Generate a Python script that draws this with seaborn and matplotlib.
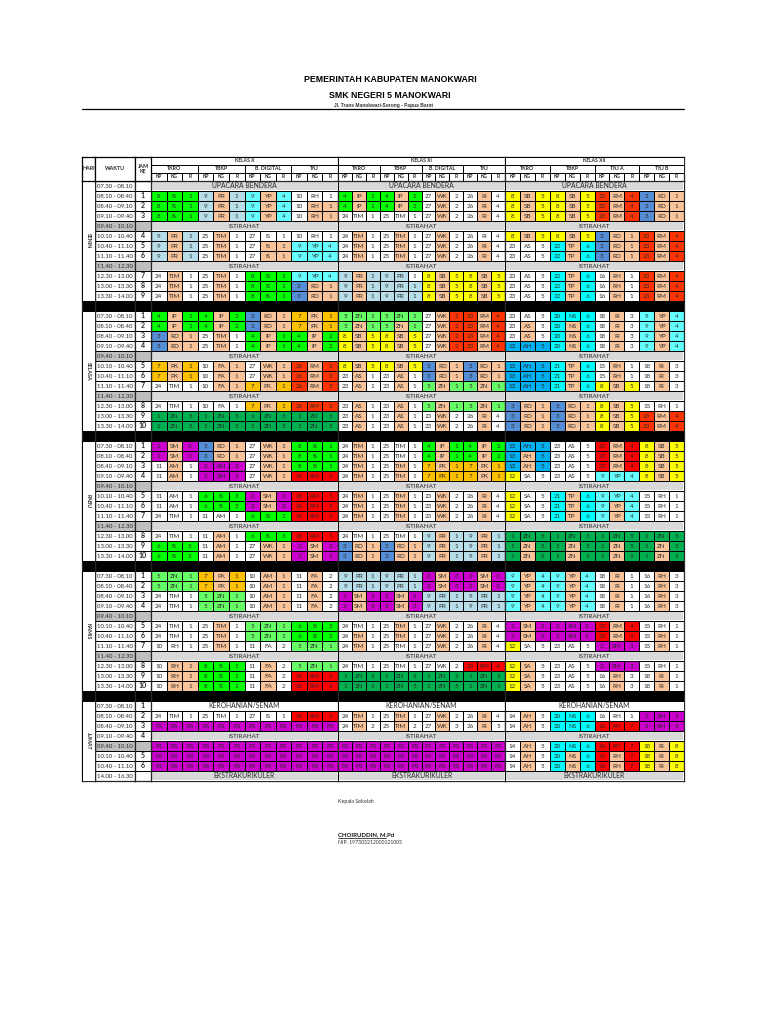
import numpy as np
import matplotlib
matplotlib.use("Agg")
import matplotlib.pyplot as plt
from matplotlib.colors import ListedColormap
from matplotlib.patches import Rectangle
import seaborn as sns

# cell colours used in the timetable
colour_names = ["W", "P", "G", "L", "B", "C", "A", "Y", "O", "R", "D", "U", "K", "M", "E", "N", "S", "H"]
colour_hex = ["#FFFFFF", "#FAC49A", "#00FF00", "#66FF66", "#B7DEE8", "#66FFFF", "#00FFFF", "#FFFF00",
              "#FFC000", "#FF3300", "#FF0000", "#558ED5", "#00B0F0", "#CC00CC", "#00B050", "#000000",
              "#D9D9D9", "#BFBFBF"]

kelas = ["KELAS X", "KELAS XI", "KELAS XII"]
jurusan_x = ["TKRO", "TBKP", "B. DIGITAL", "TKJ"]
jurusan_xi = ["TKRO", "TBKP", "B. DIGITAL", "TKJ"]
jurusan_xii = ["TKRO", "TBKP", "TKJ A", "TKJ B"]
kolom = ["KP", "KG", "R"]

hari = ["SENIN", "SELASA", "RABU", "KAMIS", "JUMAT"]
waktu_biasa = ["07.30 - 08.10", "08.10 - 08.40", "08.40 - 09.10", "09.10 - 09.40", "09.40 - 10.10", "10.10 - 10.40",
               "10.40 - 11.10", "11.10 - 11.40", "11.40 - 12.30", "12.30 - 13.00", "13.00 - 13.30", "13.30 - 14.00"]
waktu_jumat = ["07.30 - 08.10", "08.10 - 08.40", "08.40 - 09.10", "09.10 - 09.40", "09.40 - 10.10", "10.10 - 10.40",
               "10.40 - 11.10", "14.00 - 16.30"]
waktu_abu = ["09.40 - 10.10", "11.40 - 12.30"]
jam_senin = ["", "1", "2", "3", "", "4", "5", "6", "", "7", "8", "9"]
jam_biasa = ["1", "2", "3", "4", "", "5", "6", "7", "", "8", "9", "10"]
jam_jumat = ["1", "2", "3", "4", "", "5", "6", ""]

# one row = 12 groups "KP KG R style"; style letter colours the group,
# suffix p = KG peach, q = KG and R peach, three letters = each cell
senin = [
    "UPACARA BENDERA",
    "8 IS 1 G, 9 PR 1 Bp, 9 YP 4 Cp, 10 RH 1 W, 4 IP 1 Gp, 4 IP 2 Gp, 27 WK 2 Wp, 26 RI 4 Wp, 8 SB 5 Yp, 8 SB 5 Yp, 23 RM 4 Rp, 3 RD 1 Uq",
    "8 IS 1 G, 9 PR 1 Bp, 9 YP 4 Cp, 10 RH 1 Wq, 4 IP 1 Gp, 4 IP 2 Gp, 27 WK 2 Wp, 26 RI 4 Wp, 8 SB 5 Yp, 8 SB 5 Yp, 23 RM 4 Rp, 3 RD 1 Uq",
    "8 IS 1 G, 9 PR 1 Bp, 9 YP 4 Cp, 10 RH 1 Wq, 24 TIM 1 W, 25 TIM 1 W, 27 WK 2 Wp, 26 RI 4 Wp, 8 SB 5 Yp, 8 SB 5 Yp, 23 RM 4 Rp, 3 RD 1 Uq",
    "ISTIRAHAT",
    "9 PR 1 Bp, 25 TIM 1 Wp, 27 IS 1 W, 10 RH 1 W, 24 TIM 1 Wp, 25 TIM 1 Wp, 27 WK 2 Wp, 26 RI 4 W, 8 SB 5 Yp, 8 SB 5 Yp, 3 RD 1 Uq, 23 RM 4 Rp",
    "9 PR 1 Bp, 25 TIM 1 Wp, 27 IS 1 Wq, 9 YP 4 C, 24 TIM 1 Wp, 25 TIM 1 Wp, 27 WK 2 Wp, 26 RI 4 Wp, 23 AS 5 W, 22 TP 6 Ap, 3 RD 1 Uq, 23 RM 4 Rp",
    "9 PR 1 Bp, 25 TIM 1 Wp, 27 IS 1 Wq, 9 YP 4 C, 24 TIM 1 Wp, 25 TIM 1 Wp, 27 WK 2 Wp, 26 RI 4 Wp, 23 AS 5 W, 22 TP 6 Ap, 3 RD 1 Uq, 23 RM 4 Rp",
    "ISTIRAHAT",
    "24 TIM 1 Wp, 25 TIM 1 Wp, 8 IS 1 G, 9 YP 4 C, 9 PR 1 Bp, 9 PR 1 BBW, 8 SB 5 Yp, 8 SB 5 Yp, 23 AS 5 W, 22 TP 6 Ap, 16 RH 1 Wp, 23 RM 4 Rp",
    "24 TIM 1 Wp, 25 TIM 1 Wp, 8 IS 1 G, 3 RD 1 Uq, 9 PR 1 Bp, 9 PR 1 B, 8 SB 5 Yp, 8 SB 5 Yp, 23 AS 5 W, 22 TP 6 Ap, 16 RH 1 Wp, 23 RM 4 Rp",
    "24 TIM 1 Wp, 25 TIM 1 Wp, 8 IS 1 G, 3 RD 1 Uq, 9 PR 1 Bp, 9 PR 1 B, 8 SB 5 Yp, 8 SB 5 Yp, 23 AS 5 W, 22 TP 6 Ap, 16 RH 1 Wp, 23 RM 4 Rp",
]
selasa = [
    "4 IP 1 Gp, 4 IP 2 Gp, 3 RD 1 Uq, 7 PK 1 Op, 5 ZN 1 L, 5 ZN 1 L, 27 WK 2 WPR, 23 RM 4 Rp, 23 AS 5 W, 20 NS 6 A, 18 RI 3 Wp, 9 YP 4 Cp",
    "4 IP 1 Gp, 4 IP 2 Gp, 3 RD 1 Uq, 7 PK 1 Op, 5 ZN 1 Lp, 5 ZN 1 Lp, 27 WK 2 WPR, 23 RM 4 Rp, 23 AS 5 Wp, 20 NS 6 Ap, 18 RI 3 Wp, 9 YP 4 Cp",
    "3 RD 1 Uq, 25 TIM 1 Wp, 4 IP 1 Gp, 4 IP 2 Gp, 8 SB 5 Yp, 8 SB 5 Yp, 27 WK 2 WPR, 23 RM 4 Rp, 23 AS 5 Wp, 20 NS 6 Ap, 18 RI 3 Wp, 9 YP 4 Cp",
    "3 RD 1 Uq, 25 TIM 1 Wp, 4 IP 1 Gp, 4 IP 2 Gp, 8 SB 5 Yp, 8 SB 5 Yp, 27 WK 2 WPR, 23 RM 4 Rp, 13 AH 5 K, 20 NS 6 Ap, 18 RI 3 Wp, 9 YP 4 Cp",
    "ISTIRAHAT",
    "7 PK 1 Op, 10 FA 1 Wq, 27 WK 1 Wq, 26 RM 3 Rp, 8 SB 5 Yp, 8 SB 5 Yp, 3 RD 1 Uq, 3 RD 1 Uq, 13 AH 5 K, 21 TP 6 Ap, 15 RH 1 Wp, 18 RI 3 Wp",
    "7 PK 1 Op, 10 FA 1 Wq, 27 WK 1 Wq, 26 RM 3 Rp, 23 AS 1 Wp, 23 AS 1 Wp, 3 RD 1 Uq, 3 RD 1 Uq, 13 AH 5 K, 21 TP 6 Ap, 15 RH 1 Wp, 18 RI 3 Wp",
    "24 TIM 1 W, 10 FA 1 Wq, 7 PK 1 Op, 26 RM 3 Rp, 23 AS 1 Wp, 23 AS 1 Wp, 5 ZN 1 Lp, 5 ZN 1 Lp, 13 AH 5 K, 21 TP 6 Ap, 8 SB 5 Yp, 18 RI 3 Wp",
    "ISTIRAHAT",
    "24 TIM 1 W, 10 FA 1 W, 7 PK 1 Op, 26 RM 3 R, 23 AS 1 Wp, 23 AS 1 Wp, 5 ZN 1 Lp, 5 ZN 1 Lp, 3 RD 1 Uq, 3 RD 1 Uq, 8 SB 5 Yp, 15 RH 1 W",
    "1 ZN 5 E, 1 ZN 5 E, 1 ZN 5 E, 1 ZN 5 E, 23 AS 1 Wp, 23 AS 1 Wp, 23 WK 2 Wp, 26 RI 4 Wp, 3 RD 1 Uq, 3 RD 1 Uq, 8 SB 5 Yp, 23 RM 4 Rp",
    "1 ZN 5 E, 1 ZN 5 E, 1 ZN 5 E, 1 ZN 5 E, 23 AS 1 Wp, 23 AS 1 Wp, 23 WK 2 Wp, 26 RI 4 Wp, 3 RD 1 Uq, 3 RD 1 Uq, 8 SB 5 Yp, 23 RM 4 Rp",
]
rabu = [
    "2 SM 3 Mp, 3 RD 1 Uq, 27 WK 1 Wq, 8 IS 1 G, 24 TIM 1 Wp, 25 TIM 1 W, 4 IP 1 Gp, 4 IP 2 Gp, 13 AH 5 K, 23 AS 5 W, 23 RM 4 Dp, 8 SB 5 Yp",
    "2 SM 3 Mp, 3 RD 1 Uq, 27 WK 1 Wq, 8 IS 1 G, 24 TIM 1 Wp, 25 TIM 1 W, 4 IP 1 Gp, 4 IP 2 Gp, 13 AH 5 Kp, 23 AS 5 W, 23 RM 4 Dp, 8 SB 5 Yp",
    "11 AM 1 Wp, 2 SM 3 M, 27 WK 1 Wq, 8 IS 1 G, 24 TIM 1 Wp, 25 TIM 1 Wp, 7 PK 1 Op, 7 PK 1 Op, 13 AH 5 Kp, 23 AS 5 W, 23 RM 4 Dp, 8 SB 5 Yp",
    "11 AM 1 Wp, 2 SM 3 M, 27 WK 1 Wq, 26 RM 3 D, 24 TIM 1 Wp, 25 TIM 1 Wp, 7 PK 1 O, 7 PK 1 Op, 12 SA 5 YWW, 23 AS 5 W, 9 YP 4 C, 8 SB 5 Yp",
    "ISTIRAHAT",
    "11 AM 1 W, 6 IS 3 G, 2 SM 3 Mp, 26 RM 3 D, 24 TIM 1 Wp, 25 TIM 1 Wp, 23 WK 2 Wp, 26 RI 4 Wp, 12 SA 5 YWW, 21 TP 6 Ap, 9 YP 4 C, 15 RH 1 W",
    "11 AM 1 W, 6 IS 3 G, 2 SM 3 Mp, 26 RM 3 D, 24 TIM 1 Wp, 25 TIM 1 Wp, 23 WK 2 Wp, 26 RI 4 Wp, 12 SA 5 YWW, 21 TP 6 Ap, 9 YP 4 Cp, 15 RH 1 W",
    "24 TIM 1 W, 11 AM 1 W, 6 IS 3 G, 26 RM 3 D, 24 TIM 1 Wp, 25 TIM 1 Wp, 23 WK 2 Wp, 26 RI 4 Wp, 12 SA 5 YWW, 21 TP 6 Ap, 9 YP 4 Cp, 15 RH 1 W",
    "ISTIRAHAT",
    "24 TIM 1 W, 11 AM 1 Wp, 6 IS 3 G, 26 RM 3 D, 24 TIM 1 W, 25 TIM 1 W, 9 PR 1 Bp, 9 PR 1 Bp, 1 ZN 5 E, 1 ZN 5 E, 1 ZN 5 E, 1 ZN 5 E",
    "6 IS 3 G, 11 AM 1 Wp, 27 WK 1 Wq, 2 SM 3 Mp, 3 RD 1 Uq, 3 RD 1 Uq, 9 PR 1 Bp, 9 PR 1 Bp, 1 ZN 5 Ep, 1 ZN 5 Ep, 1 ZN 5 Ep, 1 ZN 5 Ep",
    "6 IS 3 G, 11 AM 1 Wp, 27 WK 1 Wq, 2 SM 3 Mp, 3 RD 1 Uq, 3 RD 1 Uq, 9 PR 1 Bp, 9 PR 1 Bp, 1 ZN 5 Ep, 1 ZN 5 Ep, 1 ZN 5 Ep, 1 ZN 5 Ep",
]
kamis = [
    "5 ZN 1 L, 7 PK 1 Op, 10 AM 1 Wq, 11 FA 2 Wp, 9 PR 1 B, 9 PR 1 B, 2 SM 3 Mp, 2 SM 3 Mp, 9 YP 4 Cp, 9 YP 4 Cp, 18 RI 1 Wp, 16 RH 3 Wp",
    "5 ZN 1 L, 7 PK 1 Op, 10 AM 1 Wq, 11 FA 2 Wp, 9 PR 1 B, 9 PR 1 B, 2 SM 3 Mp, 2 SM 3 Mp, 9 YP 4 Cp, 9 YP 4 Cp, 18 RI 1 Wp, 16 RH 3 Wp",
    "24 TIM 1 W, 5 ZN 1 L, 10 AM 1 Wq, 11 FA 2 Wp, 2 SM 3 Mp, 2 SM 3 Mp, 9 PR 1 B, 9 PR 1 B, 9 YP 4 Cp, 9 YP 4 Cp, 18 RI 1 Wp, 16 RH 3 Wp",
    "24 TIM 1 W, 5 ZN 1 L, 10 AM 1 Wq, 11 FA 2 Wp, 2 SM 3 Mp, 2 SM 3 Mp, 9 PR 1 B, 9 PR 1 B, 9 YP 4 Cp, 9 YP 4 Cp, 18 RI 1 Wp, 16 RH 3 Wp",
    "ISTIRAHAT",
    "24 TIM 1 W, 25 TIM 1 Wp, 5 ZN 1 L, 6 IS 3 G, 24 TIM 1 W, 25 TIM 1 Wp, 27 WK 2 Wp, 26 RI 4 Wp, 2 SM 3 Mp, 2 SM 3 M, 23 RM 4 Dp, 15 RH 1 W",
    "24 TIM 1 W, 25 TIM 1 Wp, 5 ZN 1 L, 6 IS 3 G, 24 TIM 1 Wp, 25 TIM 1 Wp, 27 WK 2 Wp, 26 RI 4 Wp, 2 SM 3 Mp, 2 SM 3 M, 23 RM 4 Dp, 15 RH 1 Wp",
    "10 RH 1 W, 25 TIM 1 Wp, 11 FA 2 W, 5 ZN 1 L, 24 TIM 1 Wp, 25 TIM 1 W, 27 WK 2 Wp, 26 RI 4 Wp, 12 SA 5 YWW, 23 AS 5 W, 2 SM 3 M, 15 RH 1 Wp",
    "ISTIRAHAT",
    "10 RH 1 Wq, 8 IS 1 G, 11 FA 2 Wp, 5 ZN 1 L, 24 TIM 1 W, 25 TIM 1 W, 27 WK 2 W, 23 RM 4 D, 12 SA 5 YPW, 23 AS 5 W, 2 SM 3 M, 15 RH 1 W",
    "10 RH 1 Wq, 8 IS 1 G, 11 FA 2 Wp, 26 RM 3 D, 1 ZN 5 E, 1 ZN 5 E, 1 ZN 5 E, 1 ZN 5 E, 12 SA 5 YPW, 23 AS 5 W, 16 RH 3 Wp, 18 RI 1 Wp",
    "10 RH 1 Wq, 8 IS 1 G, 11 FA 2 Wp, 26 RM 3 D, 1 ZN 5 E, 1 ZN 5 E, 1 ZN 5 E, 1 ZN 5 E, 12 SA 5 YPW, 23 AS 5 W, 16 RH 3 Wp, 18 RI 1 Wp",
]
ps_group = "PS PS PS M"
ps_x = ", ".join([ps_group] * 4)
ps_xi = ", ".join([ps_group] * 4)
jumat = [
    "KEROHANIAN/SENAM",
    "24 TIM 1 W, 25 TIM 1 W, 27 IS 1 W, 26 RM 3 D, 24 TIM 1 Wp, 25 TIM 1 Wp, 27 WK 2 Wp, 26 RI 4 Wp, 14 AH 5 Wp, 20 NS 6 A, 16 RH 1 W, 2 SM 3 M",
    ps_x + ", 24 TIM 2 Wp, 25 TIM 2 Wp, 27 WK 3 Wp, 26 RI 5 Wp, 14 AH 5 Wp, 20 NS 6 A, 16 RH 7 D, 2 SM 3 M",
    "ISTIRAHAT",
    ps_x + ", " + ps_xi + ", 14 AH 5 Wp, 20 NS 6 A, 16 RH 7 D, 18 RI 8 Yp",
    ps_x + ", " + ps_xi + ", 14 AH 5 Wp, 20 NS 6 Ap, 16 RH 7 Dp, 18 RI 8 Yp",
    ps_x + ", " + ps_xi + ", 14 AH 5 Wp, 20 NS 6 Ap, 16 RH 7 Dp, 18 RI 8 Yp",
    "EKSTRAKURIKULER",
]

semua_hari = [senin, selasa, rabu, kamis, jumat]
semua_waktu = [waktu_biasa, waktu_biasa, waktu_biasa, waktu_biasa, waktu_jumat]
semua_jam = [jam_senin, jam_biasa, jam_biasa, jam_biasa, jam_jumat]

W, H = 768, 1024
kode = {c: i for i, c in enumerate(colour_names)}
cmap = ListedColormap(colour_hex)
TEKS = "#2a2a2a"


def style_cells(style):
    if len(style) == 3:
        return list(style)
    if style.endswith("p"):
        return [style[0], "P", style[0]]
    if style.endswith("q"):
        return [style[0], "P", "P"]
    return [style] * 3


def axes_px(x0, y0, x1, y1):
    return fig.add_axes([x0 / W, 1 - y1 / H, (x1 - x0) / W, (y1 - y0) / H])


def heat(ax, codes, labels, size, weight="normal"):
    sns.heatmap(np.array(codes), annot=np.array(labels, dtype=object), fmt="", cmap=cmap, vmin=-0.5,
                vmax=len(colour_hex) - 0.5, cbar=False, linewidths=0.7, linecolor="black",
                xticklabels=False, yticklabels=False, ax=ax,
                annot_kws={"size": size, "color": TEKS, "weight": weight})
    for s in ax.spines.values():
        s.set_visible(True)
        s.set_linewidth(0.9)


def merge(ax, x, y, w, h, text, warna="#FFFFFF", size=4.6, weight="normal", rot=0):
    ax.add_patch(Rectangle((x, y), w, h, fc="white", ec="black", lw=0.7, zorder=3))
    if warna != "#FFFFFF":
        ax.add_patch(Rectangle((x + 0.07, y + 0.07), w - 0.14, h - 0.14, fc=warna, ec="none", zorder=3))
    ax.text(x + w / 2, y + h / 2, text, ha="center", va="center", fontsize=size, color=TEKS,
            weight=weight, rotation=rot, zorder=4)


sns.set_theme(style="white")
plt.rcParams["font.family"] = ["Lato", "DejaVu Sans"]
fig = plt.figure(figsize=(W / 100, H / 100), dpi=100)

# body rows in order, None is the black bar between days
baris = []
for d, hari_rows in enumerate(semua_hari):
    baris += hari_rows
    if d < len(semua_hari) - 1:
        baris.append(None)

kelas_x = [(151, 338), (338, 505), (505, 684)]
jurusan = [jurusan_x, jurusan_xi, jurusan_xii]
HEAD_TOP, HEAD_BOT, BODY_BOT = 157, 181, 781

for k in range(3):
    x0, x1 = kelas_x[k]
    codes, labels = [], []
    for r in baris:
        if r is None:
            codes.append([kode["N"]] * 12)
            labels.append([""] * 12)
        elif "," not in r:
            codes.append([kode["S"]] * 12)
            labels.append([""] * 12)
        else:
            groups = [g.split() for g in r.split(", ")][k * 4:k * 4 + 4]
            baris_kode, baris_label = [], []
            for g in groups:
                baris_kode += [kode[c] for c in style_cells(g[3])]
                baris_label += g[:3]
            codes.append(baris_kode)
            labels.append(baris_label)
    ax = axes_px(x0, HEAD_BOT, x1, BODY_BOT)
    heat(ax, codes, labels, 4.5)
    for i, r in enumerate(baris):
        if r is not None and "," not in r:
            warna = "#FFFFFF" if r.startswith("KERO") else "#D9D9D9"
            ukuran = 4.5 if r == "ISTIRAHAT" else 4.9
            merge(ax, 0, i, 12, 1, r, warna, size=ukuran)

    # header block, KP/KG/R row in the heatmap, merged cells above it
    head_codes = [[kode["W"]] * 12 for _ in range(3)]
    head_labels = [[""] * 12, [""] * 12, kolom * 4]
    ax_h = axes_px(x0, HEAD_TOP, x1, HEAD_BOT)
    heat(ax_h, head_codes, head_labels, 3.6, "bold")
    merge(ax_h, 0, 0, 12, 1, kelas[k], size=3.6, weight="bold")
    for j, nama in enumerate(jurusan[k]):
        merge(ax_h, j * 3, 1, 3, 1, nama, size=3.8, weight="bold")

# left columns: waktu and jam as single column heatmaps
waktu_txt, jam_txt, waktu_kode, jam_kode = [], [], [], []
for d in range(5):
    for w, j in zip(semua_waktu[d], semua_jam[d]):
        abu = w in waktu_abu
        waktu_txt.append(w)
        jam_txt.append(j)
        waktu_kode.append(kode["H"] if abu else kode["W"])
        jam_kode.append(kode["H"] if abu else kode["W"])
    if d < 4:
        waktu_txt.append("")
        jam_txt.append("")
        waktu_kode.append(kode["N"])
        jam_kode.append(kode["N"])

ax_w = axes_px(95, HEAD_BOT, 135, BODY_BOT)
heat(ax_w, [[c] for c in waktu_kode], [[t] for t in waktu_txt], 4.3)
ax_j = axes_px(135, HEAD_BOT, 151, BODY_BOT)
heat(ax_j, [[c] for c in jam_kode], [[t] for t in jam_txt], 5.0, "bold")

ax_hari = axes_px(82, HEAD_BOT, 95, BODY_BOT)
heat(ax_hari, [[kode["N"] if t == "" else kode["W"]] for t in waktu_txt], [[""] for _ in waktu_txt], 4)
mulai = 0
for d, nama in enumerate(hari):
    n = len(semua_waktu[d])
    merge(ax_hari, 0, mulai, 1, n, nama, size=3.8, weight="bold", rot=270)
    mulai += n + 1

for (a, b, teks) in [(82, 95, "HARI"), (95, 135, "WAKTU"), (135, 151, "JAM\nKE")]:
    ax_t = axes_px(a, HEAD_TOP, b, HEAD_BOT)
    ax_t.set_xticks([])
    ax_t.set_yticks([])
    ax_t.text(0.5, 0.5, teks, ha="center", va="center", fontsize=3.9, weight="bold", color=TEKS,
              linespacing=1.2, transform=ax_t.transAxes)
    for s in ax_t.spines.values():
        s.set_visible(True)
        s.set_linewidth(0.9)
        s.set_color("black")

# title block and signature
judul = "Liberation Sans"
fig.text(390 / W, 1 - 80 / H, "PEMERINTAH KABUPATEN MANOKWARI", ha="center", va="center", fontsize=6.3,
         weight="bold", family=judul, color="black")
fig.text(390 / W, 1 - 95 / H, "SMK NEGERI 5 MANOKWARI", ha="center", va="center", fontsize=6.3,
         weight="bold", family=judul, color="black")
fig.text(383 / W, 1 - 105 / H, "Jl. Trans Manokwari-Sorong - Papua Barat", ha="center", va="center", fontsize=3.5,
         weight="bold", family=judul, color="#333333")
fig.add_artist(plt.Line2D([82 / W, 684 / W], [1 - 109 / H, 1 - 109 / H], color="black", lw=0.9))

fig.text(338 / W, 1 - 801 / H, "Kepala Sekolah", ha="left", va="center", fontsize=3.9, color="#333333")
fig.text(338 / W, 1 - 835 / H, "CHOIRUDDIN, M.Pd", ha="left", va="center", fontsize=4.3, weight="bold", color="#111111")
fig.add_artist(plt.Line2D([338 / W, 386 / W], [1 - 838 / H, 1 - 838 / H], color="black", lw=0.5))
fig.text(338 / W, 1 - 843 / H, "NIP. 197303212000121005", ha="left", va="center", fontsize=3.7, color="#333333")

fig.savefig("out.png", dpi=100, facecolor="white")
